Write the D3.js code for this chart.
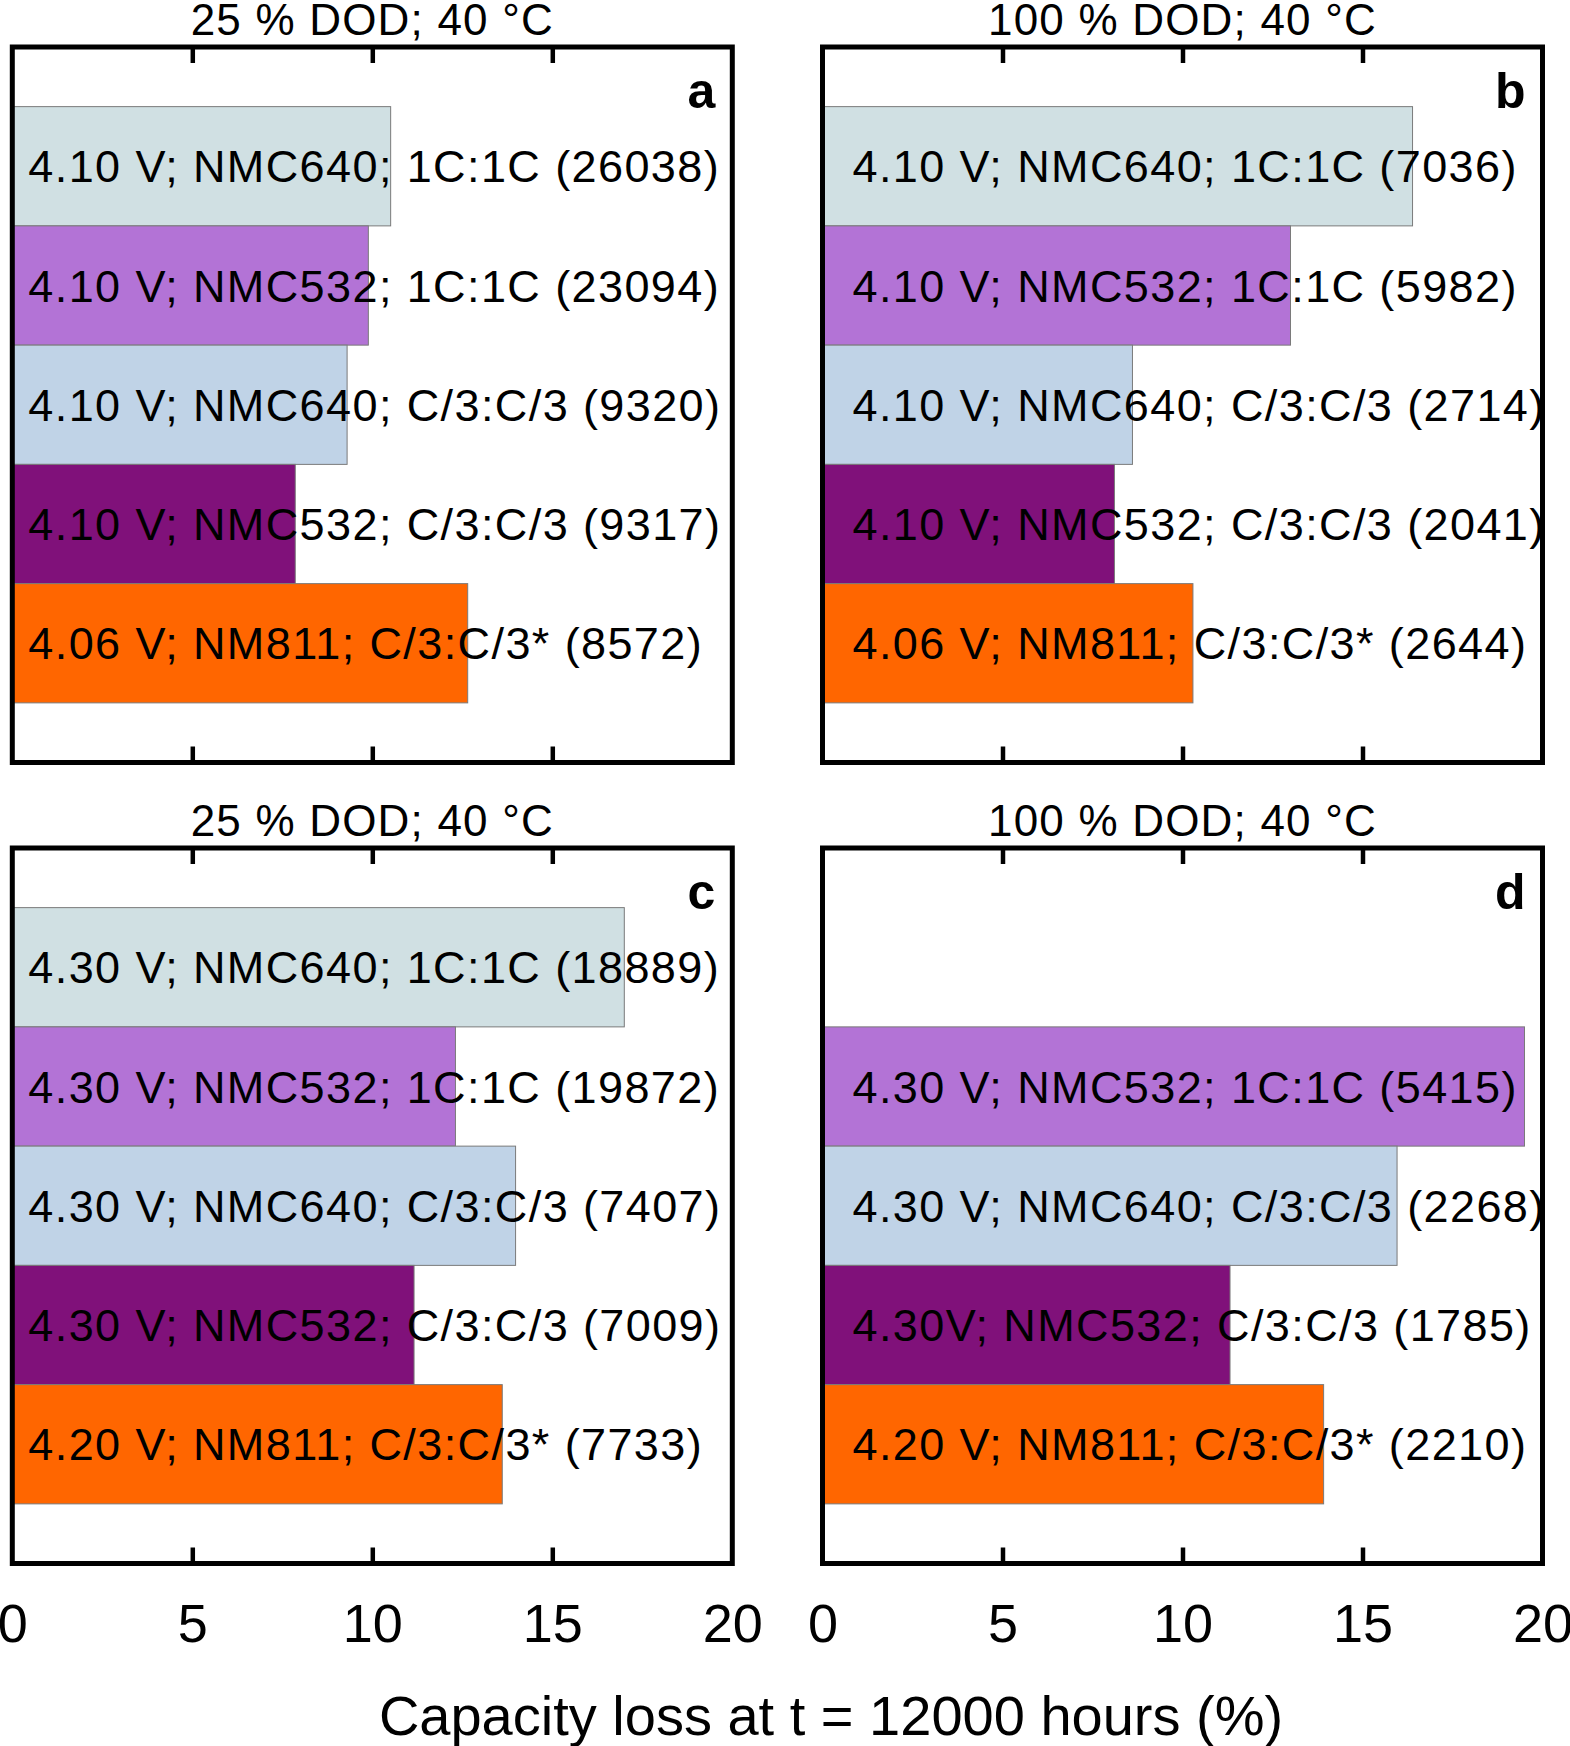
<!DOCTYPE html>
<html>
<head>
<meta charset="utf-8">
<script src="https://cdn.jsdelivr.net/npm/d3@7"></script>
<style>
  body { margin: 0; background: #fff; }
  svg { display: block; font-family: "Liberation Sans", Arial, sans-serif; }
</style>
</head>
<body>
<script>
// bar order, top to bottom, same in every panel
var bar_colors = ["#d0e0e3", "#b373d6", "#c0d3e7", "#80117a", "#ff6600"];

var panel_ids = ["a", "b", "c", "d"];
var panel_titles = ["25 % DOD; 40 °C", "100 % DOD; 40 °C", "25 % DOD; 40 °C", "100 % DOD; 40 °C"];

var labels_a = ["4.10 V; NMC640; 1C:1C (26038)", "4.10 V; NMC532; 1C:1C (23094)", "4.10 V; NMC640; C/3:C/3 (9320)", "4.10 V; NMC532; C/3:C/3 (9317)", "4.06 V; NM811; C/3:C/3* (8572)"];
var labels_b = ["4.10 V; NMC640; 1C:1C (7036)", "4.10 V; NMC532; 1C:1C (5982)", "4.10 V; NMC640; C/3:C/3 (2714)", "4.10 V; NMC532; C/3:C/3 (2041)", "4.06 V; NM811; C/3:C/3* (2644)"];
var labels_c = ["4.30 V; NMC640; 1C:1C (18889)", "4.30 V; NMC532; 1C:1C (19872)", "4.30 V; NMC640; C/3:C/3 (7407)", "4.30 V; NMC532; C/3:C/3 (7009)", "4.20 V; NM811; C/3:C/3* (7733)"];
var labels_d = [null, "4.30 V; NMC532; 1C:1C (5415)", "4.30 V; NMC640; C/3:C/3 (2268)", "4.30V; NMC532; C/3:C/3 (1785)", "4.20 V; NM811; C/3:C/3* (2210)"];

// capacity loss at 12000 h (%)
var loss_a = [10.51, 9.89, 9.30, 7.86, 12.65];
var loss_b = [16.39, 13.00, 8.61, 8.11, 10.29];
var loss_c = [17.00, 12.31, 13.98, 11.16, 13.61];
var loss_d = [null, 19.50, 15.96, 11.32, 13.92];

var x_ticks = [0, 5, 10, 15, 20];
var x_title = "Capacity loss at t = 12000 hours (%)";

var all_labels = [labels_a, labels_b, labels_c, labels_d];
var all_loss = [loss_a, loss_b, loss_c, loss_d];

var W = 1570, H = 1746;
var col_left = [12.3, 822.5];
var row_top = [47, 848];
var panel_w = 720, panel_h = 715.5;
var label_off = [16, 30];

var svg = d3.select("body").append("svg")
  .attr("width", W).attr("height", H);

var defs = svg.append("defs");

panel_ids.forEach(function(id, p) {
  var col = p % 2, row = Math.floor(p / 2);
  var left = col_left[col], top = row_top[row];

  var x = d3.scaleLinear().domain([0, 20]).range([left, left + panel_w]);
  var y = d3.scaleBand().domain(d3.range(5)).range([top, top + panel_h])
    .paddingInner(0).paddingOuter(0.5);

  var rows = all_loss[p].map(function(v, i) {
    return {v: v, label: all_labels[p][i], color: bar_colors[i], i: i};
  }).filter(function(d) { return d.v !== null; });

  defs.append("clipPath").attr("id", "clip_" + id)
    .append("rect")
    .attr("x", left).attr("y", top)
    .attr("width", panel_w).attr("height", panel_h);

  var g = svg.append("g").attr("class", "panel_" + id);
  var inner = g.append("g").attr("clip-path", "url(#clip_" + id + ")");

  // bars
  inner.selectAll("rect.bar").data(rows).enter().append("rect")
    .attr("class", "bar")
    .attr("x", x(0))
    .attr("y", function(d) { return y(d.i); })
    .attr("width", function(d) { return x(d.v) - x(0); })
    .attr("height", y.bandwidth())
    .attr("fill", function(d) { return d.color; })
    .attr("stroke", "#7a7a7a")
    .attr("stroke-width", 1);

  // bar labels
  inner.selectAll("text.lab").data(rows).enter().append("text")
    .attr("class", "lab")
    .attr("x", left + label_off[col])
    .attr("y", function(d) { return y(d.i) + y.bandwidth() / 2 + 16; })
    .attr("font-size", 45)
    .attr("letter-spacing", 1.4)
    .attr("fill", "#000")
    .text(function(d) { return d.label; });

  // inner ticks, top and bottom
  var top_axis = d3.axisBottom(x).tickValues([5, 10, 15]).tickSize(16).tickFormat("");
  var bot_axis = d3.axisTop(x).tickValues([5, 10, 15]).tickSize(16).tickFormat("");
  [[top_axis, top], [bot_axis, top + panel_h]].forEach(function(a) {
    var ax = g.append("g").attr("transform", "translate(0," + a[1] + ")").call(a[0]);
    ax.select(".domain").remove();
    ax.selectAll(".tick line").attr("stroke", "#000").attr("stroke-width", 4.5);
  });

  // frame
  g.append("rect")
    .attr("x", left).attr("y", top)
    .attr("width", panel_w).attr("height", panel_h)
    .attr("fill", "none").attr("stroke", "#000").attr("stroke-width", 5);

  // panel title
  g.append("text")
    .attr("x", left + panel_w / 2).attr("y", top - 12)
    .attr("text-anchor", "middle")
    .attr("font-size", 44)
    .attr("letter-spacing", 1.2)
    .text(panel_titles[p]);

  // panel letter
  g.append("text")
    .attr("x", left + panel_w - 17).attr("y", top + 61)
    .attr("text-anchor", "end")
    .attr("font-size", 50)
    .attr("font-weight", "bold")
    .text(id);

  // tick labels under the bottom row only
  if (row === 1) {
    var lab_axis = d3.axisBottom(x).tickValues(x_ticks).tickSize(0).tickPadding(40)
      .tickFormat(d3.format("d"));
    var la = g.append("g").attr("transform", "translate(0," + (top + panel_h) + ")").call(lab_axis);
    la.select(".domain").remove();
    la.selectAll(".tick text")
      .attr("font-size", 54)
      .attr("font-family", "'Liberation Sans', Arial, sans-serif")
      .attr("fill", "#000");
  }
});

svg.append("text")
  .attr("x", 831).attr("y", 1735)
  .attr("text-anchor", "middle")
  .attr("font-size", 56)
  .text(x_title);
</script>
</body>
</html>
